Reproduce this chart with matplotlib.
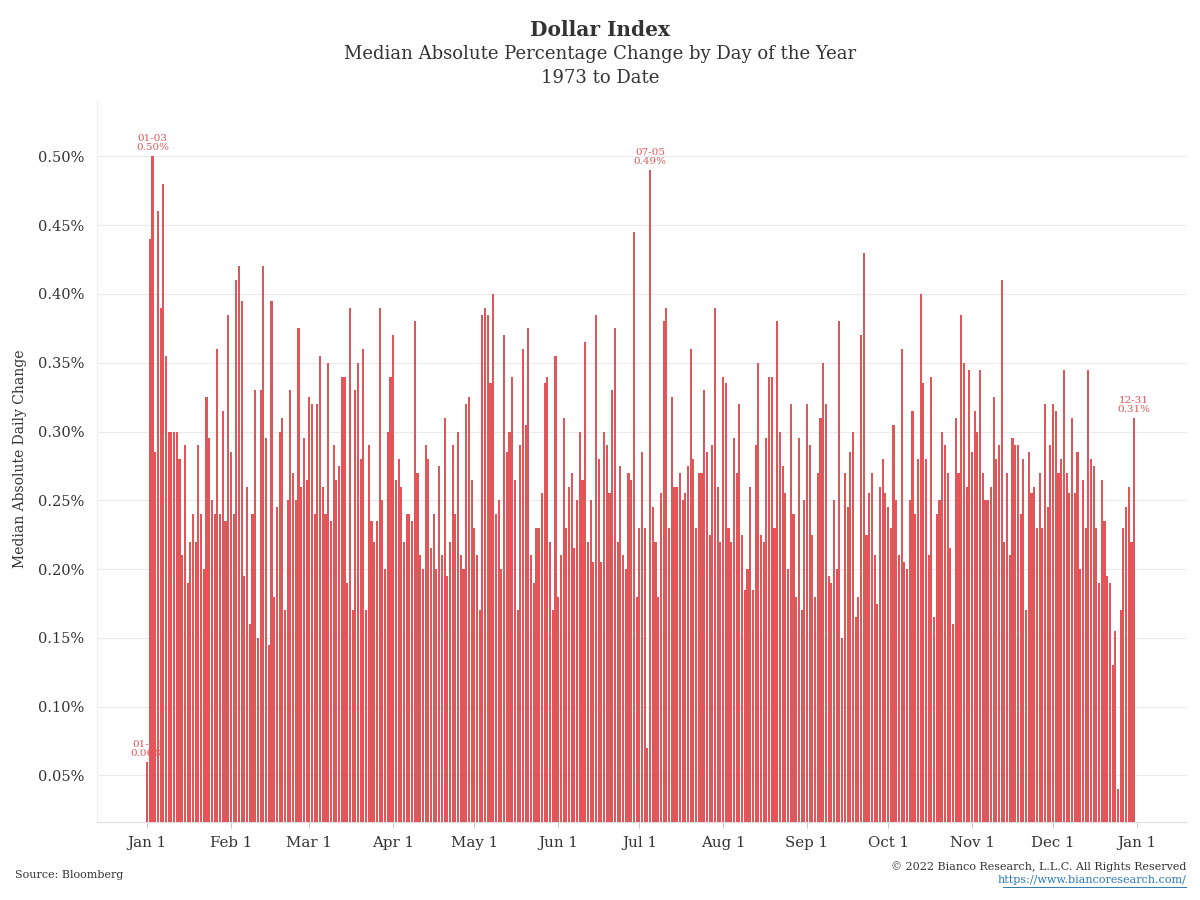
import matplotlib
matplotlib.use("Agg")
import matplotlib.pyplot as plt
from matplotlib.ticker import FuncFormatter, FixedLocator
import numpy as np

# Median absolute % change by day of year (366 days, Jan 1 .. Dec 31, leap-year calendar)
jan = [0.06, 0.44, 0.50, 0.285, 0.46, 0.39, 0.48, 0.355, 0.30, 0.30, 0.30, 0.30, 0.28, 0.21, 0.29,
       0.19, 0.22, 0.24, 0.22, 0.29, 0.24, 0.20, 0.325, 0.295, 0.25, 0.24, 0.36, 0.24, 0.315, 0.235,
       0.385]
feb = [0.285, 0.24, 0.41, 0.42, 0.395, 0.195, 0.26, 0.16, 0.24, 0.33, 0.15, 0.33, 0.42, 0.295,
       0.145, 0.395, 0.18, 0.245, 0.30, 0.31, 0.17, 0.25, 0.33, 0.27, 0.25, 0.375, 0.26, 0.295, 0.265]
mar = [0.325, 0.32, 0.24, 0.32, 0.355, 0.26, 0.24, 0.35, 0.235, 0.29, 0.265, 0.275, 0.34, 0.34,
       0.19, 0.39, 0.17, 0.33, 0.35, 0.28, 0.36, 0.17, 0.29, 0.235, 0.22, 0.235, 0.39, 0.25, 0.20,
       0.30, 0.34]
apr = [0.37, 0.265, 0.28, 0.26, 0.22, 0.24, 0.24, 0.235, 0.38, 0.27, 0.21, 0.20, 0.29, 0.28,
       0.215, 0.24, 0.20, 0.275, 0.21, 0.31, 0.195, 0.22, 0.29, 0.24, 0.30, 0.21, 0.20, 0.32, 0.325,
       0.265]
may = [0.23, 0.21, 0.17, 0.385, 0.39, 0.385, 0.335, 0.40, 0.24, 0.25, 0.20, 0.37, 0.285, 0.30,
       0.34, 0.265, 0.17, 0.29, 0.36, 0.305, 0.375, 0.21, 0.19, 0.23, 0.23, 0.255, 0.335, 0.34, 0.22,
       0.17, 0.355]
jun = [0.18, 0.21, 0.31, 0.23, 0.26, 0.27, 0.215, 0.25, 0.30, 0.265, 0.365, 0.22, 0.25, 0.205,
       0.385, 0.28, 0.205, 0.30, 0.29, 0.255, 0.33, 0.375, 0.22, 0.275, 0.21, 0.20, 0.27, 0.265,
       0.445, 0.18]
jul = [0.23, 0.285, 0.23, 0.07, 0.49, 0.245, 0.22, 0.18, 0.255, 0.38, 0.39, 0.23, 0.325, 0.26,
       0.26, 0.27, 0.25, 0.255, 0.275, 0.36, 0.28, 0.23, 0.27, 0.27, 0.33, 0.285, 0.225, 0.29, 0.39,
       0.26, 0.22]
aug = [0.34, 0.335, 0.23, 0.22, 0.295, 0.27, 0.32, 0.225, 0.185, 0.20, 0.26, 0.185, 0.29, 0.35,
       0.225, 0.22, 0.295, 0.34, 0.34, 0.23, 0.38, 0.30, 0.275, 0.255, 0.20, 0.32, 0.24, 0.18, 0.295,
       0.17, 0.25]
sep = [0.32, 0.29, 0.225, 0.18, 0.27, 0.31, 0.35, 0.32, 0.195, 0.19, 0.25, 0.20, 0.38, 0.15,
       0.27, 0.245, 0.285, 0.30, 0.165, 0.18, 0.37, 0.43, 0.225, 0.255, 0.27, 0.21, 0.175, 0.26,
       0.28, 0.255]
octo = [0.245, 0.23, 0.305, 0.25, 0.21, 0.36, 0.205, 0.20, 0.25, 0.315, 0.24, 0.28, 0.40, 0.335,
        0.28, 0.21, 0.34, 0.165, 0.24, 0.25, 0.30, 0.29, 0.27, 0.215, 0.16, 0.31, 0.27, 0.385, 0.35,
        0.26, 0.345]
nov = [0.285, 0.315, 0.30, 0.345, 0.27, 0.25, 0.25, 0.26, 0.325, 0.28, 0.29, 0.41, 0.22, 0.27,
       0.21, 0.295, 0.29, 0.29, 0.24, 0.28, 0.17, 0.285, 0.255, 0.26, 0.23, 0.27, 0.23, 0.32, 0.245,
       0.29]
dec = [0.32, 0.315, 0.27, 0.28, 0.345, 0.27, 0.255, 0.31, 0.255, 0.285, 0.20, 0.265, 0.23, 0.345,
       0.28, 0.275, 0.23, 0.19, 0.265, 0.235, 0.195, 0.19, 0.13, 0.155, 0.04, 0.17, 0.23, 0.245,
       0.26, 0.22, 0.31]
values = jan + feb + mar + apr + may + jun + jul + aug + sep + octo + nov + dec

month_labels = ["Jan 1", "Feb 1", "Mar 1", "Apr 1", "May 1", "Jun 1", "Jul 1", "Aug 1",
                "Sep 1", "Oct 1", "Nov 1", "Dec 1", "Jan 1"]
month_lengths = [len(m) for m in (jan, feb, mar, apr, may, jun, jul, aug, sep, octo, nov, dec)]
month_starts = list(np.concatenate([[0], np.cumsum(month_lengths)]))

annotations = [("01-01", 0.06), ("01-03", 0.50), ("07-05", 0.49), ("12-31", 0.31)]
annot_days = [0, 2, 186, 365]

title = "Dollar Index"
subtitle = "Median Absolute Percentage Change by Day of the Year"
subtitle2 = "1973 to Date"
ylabel = "Median Absolute Daily Change"

BAR = "#e15759"
TXT = "#333333"
SERIF = ["DejaVu Serif"]

plt.rcParams['font.family'] = SERIF

fig = plt.figure(figsize=(12, 9), dpi=100)
ax = fig.add_axes([97/1200, 1 - 822/900, (1187-97)/1200, (822-100)/900])

days = np.arange(len(values))
ax.bar(days, values, width=0.78, color=BAR, zorder=3, linewidth=0)

ax.set_xlim(-18.5, 384.5)
ax.set_ylim(0.0162, 0.541)

ax.yaxis.set_major_locator(FixedLocator([0.05, 0.10, 0.15, 0.20, 0.25, 0.30, 0.35, 0.40, 0.45, 0.50]))
ax.yaxis.set_major_formatter(FuncFormatter(lambda v, p: f"{v:.2f}%"))
ax.set_xticks(month_starts)
ax.set_xticklabels(month_labels)

ax.grid(axis='y', color='#ebebeb', linewidth=0.8, zorder=0)
for s in ['top', 'right']:
    ax.spines[s].set_visible(False)
ax.spines['left'].set_color('#eeeeee')
ax.spines['bottom'].set_color('#dddddd')
ax.tick_params(axis='y', length=0, labelsize=10.5, colors=TXT, pad=9)
ax.tick_params(axis='x', length=4, color='#cccccc', labelsize=10.8, colors=TXT, pad=6)
ax.set_ylabel(ylabel, fontsize=10, color=TXT)
ax.yaxis.set_label_coords(-0.064, 0.503)

for (lab, v), d in zip(annotations, annot_days):
    ax.annotate(f"{lab}\n{v:.2f}%", xy=(d, v), xytext=(0, 3), textcoords='offset points',
                ha='center', va='bottom', fontsize=7.5, color=BAR, linespacing=1.0,
                zorder=1 if d == 0 else 5)

fig.text(0.5, 1 - 30/900, title, ha='center', va='center', fontsize=14.5, fontweight='bold', color=TXT)
fig.text(0.5, 1 - 54/900, subtitle, ha='center', va='center', fontsize=13, color=TXT)
fig.text(0.5, 1 - 78/900, subtitle2, ha='center', va='center', fontsize=13, color=TXT)

fig.text(15/1200, 1 - 875/900, "Source: Bloomberg", ha='left', va='center', fontsize=8, color=TXT)
fig.text(1186/1200, 1 - 867/900, "© 2022 Bianco Research, L.L.C. All Rights Reserved",
         ha='right', va='center', fontsize=8, color=TXT)
fig.text(1186/1200, 1 - 880/900, "https://www.biancoresearch.com/", ha='right', va='center',
         fontsize=8, color='#2a7ab8', url="https://www.biancoresearch.com/")
fig.add_artist(plt.Line2D([1003/1200, 1186/1200], [1 - 887/900, 1 - 887/900], color='#2a7ab8', linewidth=0.7))

fig.savefig("out.png", dpi=100, facecolor='white')
